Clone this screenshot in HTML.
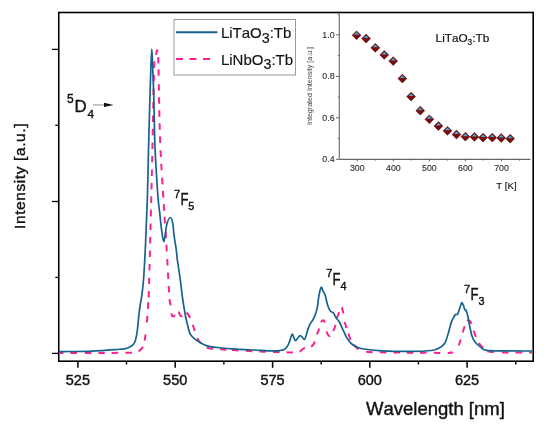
<!DOCTYPE html>
<html><head><meta charset="utf-8"><title>LiTaO3:Tb and LiNbO3:Tb emission spectra</title>
<style>
html,body{margin:0;padding:0;background:#fff;}
body{width:550px;height:428px;overflow:hidden;}
svg{display:block;font-family:'Liberation Sans', Arial, sans-serif;font-kerning:none;}
.m{fill:#111;stroke:#111;stroke-width:0.4px;}
.s{fill:#333;stroke:#333;stroke-width:0.15px;}
.s2{fill:#222;stroke:#222;stroke-width:0.2px;}
.l{fill:#111;stroke:#111;stroke-width:0.15px;}
.s3{fill:#111;stroke:#111;stroke-width:0.2px;}
</style></head>
<body>
<svg width="550" height="428" viewBox="0 0 550 428">
<rect width="550" height="428" fill="#fff"/>
<rect x="58.75" y="12.5" width="474.45" height="348.7" fill="none" stroke="#000" stroke-width="1.6"/>
<line x1="52" y1="49.4" x2="59" y2="49.4" stroke="#000" stroke-width="1.3"/>
<line x1="52" y1="201.5" x2="59" y2="201.5" stroke="#000" stroke-width="1.3"/>
<line x1="52" y1="353.4" x2="59" y2="353.4" stroke="#000" stroke-width="1.3"/>
<line x1="55.3" y1="125.3" x2="59" y2="125.3" stroke="#000" stroke-width="1.3"/>
<line x1="55.3" y1="277.4" x2="59" y2="277.4" stroke="#000" stroke-width="1.3"/>
<line x1="77.9" y1="361" x2="77.9" y2="367.8" stroke="#000" stroke-width="1.5"/>
<line x1="175.2" y1="361" x2="175.2" y2="367.8" stroke="#000" stroke-width="1.5"/>
<line x1="272.6" y1="361" x2="272.6" y2="367.8" stroke="#000" stroke-width="1.5"/>
<line x1="369.8" y1="361" x2="369.8" y2="367.8" stroke="#000" stroke-width="1.5"/>
<line x1="467.1" y1="361" x2="467.1" y2="367.8" stroke="#000" stroke-width="1.5"/>
<line x1="126.5" y1="361" x2="126.5" y2="364.5" stroke="#000" stroke-width="1.4"/>
<line x1="223.9" y1="361" x2="223.9" y2="364.5" stroke="#000" stroke-width="1.4"/>
<line x1="321.2" y1="361" x2="321.2" y2="364.5" stroke="#000" stroke-width="1.4"/>
<line x1="418.4" y1="361" x2="418.4" y2="364.5" stroke="#000" stroke-width="1.4"/>
<line x1="515.8" y1="361" x2="515.8" y2="364.5" stroke="#000" stroke-width="1.4"/>
<text x="77.9" y="384.5" font-size="14.5" text-anchor="middle" class="m">525</text>
<text x="175.2" y="384.5" font-size="14.5" text-anchor="middle" class="m">550</text>
<text x="272.6" y="384.5" font-size="14.5" text-anchor="middle" class="m">575</text>
<text x="369.8" y="384.5" font-size="14.5" text-anchor="middle" class="m">600</text>
<text x="467.1" y="384.5" font-size="14.5" text-anchor="middle" class="m">625</text>
<text x="366" y="414.6" font-size="18.5" class="m">Wavelength [nm]</text>
<text transform="translate(25.3,229) rotate(-90)" font-size="15.5" letter-spacing="0.6" class="m">Intensity [a.u.]</text>
<path d="M59.00,353.00 C70.83,352.97 117.17,352.93 130.00,352.80 C142.83,352.67 134.50,352.50 136.00,352.20 C137.50,351.90 138.17,351.48 139.00,351.00 C139.83,350.52 140.42,349.88 141.00,349.30 C141.58,348.72 142.00,348.38 142.50,347.50 C143.00,346.62 143.55,345.75 144.00,344.00 C144.45,342.25 144.83,339.67 145.20,337.00 C145.57,334.33 145.93,330.35 146.20,328.00 C146.47,325.65 146.52,325.90 146.80,322.90 C147.08,319.90 147.65,314.03 147.90,310.00 C148.15,305.97 148.13,302.03 148.30,298.70 C148.47,295.37 148.43,305.62 148.90,290.00 C149.37,274.38 150.50,229.17 151.10,205.00 C151.70,180.83 152.10,163.33 152.50,145.00 C152.90,126.67 153.20,108.67 153.50,95.00 C153.80,81.33 153.88,69.67 154.30,63.00 C154.72,56.33 155.55,57.13 156.00,55.00 C156.45,52.87 156.70,50.45 157.00,50.20 C157.30,49.95 157.57,51.53 157.80,53.50 C158.03,55.47 158.20,55.08 158.40,62.00 C158.60,68.92 158.68,81.17 159.00,95.00 C159.32,108.83 159.50,126.67 160.30,145.00 C161.10,163.33 162.78,188.33 163.80,205.00 C164.82,221.67 165.67,232.92 166.40,245.00 C167.13,257.08 167.68,268.50 168.20,277.50 C168.72,286.50 169.10,294.42 169.50,299.00 C169.90,303.58 170.30,302.77 170.60,305.00 C170.90,307.23 171.02,310.57 171.30,312.40 C171.58,314.23 171.85,315.40 172.30,316.00 C172.75,316.60 173.13,316.92 174.00,316.00 C174.87,315.08 176.38,310.50 177.50,310.50 C178.62,310.50 179.78,315.25 180.70,316.00 C181.62,316.75 182.22,315.60 183.00,315.00 C183.78,314.40 184.65,312.65 185.40,312.40 C186.15,312.15 186.73,312.63 187.50,313.50 C188.27,314.37 189.00,315.35 190.00,317.60 C191.00,319.85 192.17,323.35 193.50,327.00 C194.83,330.65 196.42,336.50 198.00,339.50 C199.58,342.50 201.33,343.58 203.00,345.00 C204.67,346.42 205.50,347.32 208.00,348.00 C210.50,348.68 214.33,348.77 218.00,349.10 C221.67,349.43 223.00,349.60 230.00,350.00 C237.00,350.40 250.00,351.10 260.00,351.50 C270.00,351.90 284.08,352.18 290.00,352.40 C295.92,352.62 293.83,352.95 295.50,352.80 C297.17,352.65 298.75,352.17 300.00,351.50 C301.25,350.83 301.83,349.45 303.00,348.80 C304.17,348.15 305.83,347.87 307.00,347.60 C308.17,347.33 309.00,347.63 310.00,347.20 C311.00,346.77 312.17,346.03 313.00,345.00 C313.83,343.97 314.33,342.83 315.00,341.00 C315.67,339.17 316.37,335.85 317.00,334.00 C317.63,332.15 318.27,331.60 318.80,329.90 C319.33,328.20 319.67,325.28 320.20,323.80 C320.73,322.32 321.45,321.60 322.00,321.00 C322.55,320.40 323.07,320.03 323.50,320.20 C323.93,320.37 324.22,320.53 324.60,322.00 C324.98,323.47 325.32,327.00 325.80,329.00 C326.28,331.00 326.88,332.83 327.50,334.00 C328.12,335.17 328.92,335.92 329.50,336.00 C330.08,336.08 330.52,335.13 331.00,334.50 C331.48,333.87 331.70,333.58 332.40,332.20 C333.10,330.82 334.58,328.30 335.20,326.20 C335.82,324.10 335.48,321.78 336.10,319.60 C336.72,317.42 338.18,315.28 338.90,313.10 C339.62,310.92 339.92,307.43 340.40,306.50 C340.88,305.57 341.35,306.57 341.80,307.50 C342.25,308.43 342.68,309.92 343.10,312.10 C343.52,314.28 343.82,318.25 344.30,320.60 C344.78,322.95 345.47,324.48 346.00,326.20 C346.53,327.92 346.67,328.52 347.50,330.90 C348.33,333.28 349.55,337.73 351.00,340.50 C352.45,343.27 354.03,345.68 356.20,347.50 C358.37,349.32 360.03,350.60 364.00,351.40 C367.97,352.20 366.38,352.05 380.00,352.30 C393.62,352.55 433.80,352.93 445.70,352.90 C457.60,352.87 449.48,352.92 451.40,352.10 C453.32,351.28 455.70,349.90 457.20,348.00 C458.70,346.10 459.32,343.83 460.40,340.70 C461.48,337.57 462.75,332.20 463.70,329.20 C464.65,326.20 465.28,324.20 466.10,322.70 C466.92,321.20 467.63,319.93 468.60,320.20 C469.57,320.47 470.95,322.25 471.90,324.30 C472.85,326.35 473.35,329.77 474.30,332.50 C475.25,335.23 476.65,338.70 477.60,340.70 C478.55,342.70 479.18,343.42 480.00,344.50 C480.82,345.58 481.33,346.07 482.50,347.20 C483.67,348.33 484.08,350.42 487.00,351.30 C489.92,352.18 492.50,352.30 500.00,352.50 C507.50,352.70 526.67,352.50 532.00,352.50" fill="none" stroke="#fa2290" stroke-width="2.0" stroke-dasharray="4.65 6.95 6.5 7.7 6.5 7 6.5 6.6 6.5 7.3 6.5 9.5 6.5 6.3 6.5 11.9 6.5 6.99 6.5 6.99 6.5 6.99 6.5 6.99 6.5 6.99 6.5 6.99 6.5 6.99 6.5 6.99 6.5 6.99 6.5 6.99 6.5 6.99 6.5 6.99 6.5 6.99 6.5 6.99 6.5 6.99 6.5 6.99 6.5 6.99 6.5 6.99 6.5 6.99 6.5 6.99 6.5 5.5 6.5 5.6 6.5 8.4 6.5 6.6 6.5 6.6 6.5 6.6 6.5 6.6 6.5 7.5 6.5 6.7 6.5 7.5 6.5 6.6 6.5 6.7 6.5 6.3 6.5 8.2 6.5 6.8 6.5 7.8 6.5 6.9 6.5 6.9 6.5 6.8 6.5 7.8 6.5 6.7 6.5 5.7 6.5 7.5 6.5 7.4 6.5 7.4 6.5 6.7 6.5 5.6 6.5 7.1 6.5 7.2 6.5 7.1 6.5 6.8 6.5 7 6.5 6.4 6.5 7.2 6.5 6.4 6.5 8.6 6.5 5.7 6.5 6.8 6.5 7.7 6.5 8.3 6.5 6 6.5 6 6.5 8.1 6.5 7.2 6.5 7.3 6.5 6.6 6.5 6.6 6.5 7.3 6.5 7.3 6.5 9.9 6.5 6.9 6.5 5.9 6.5 7.3 6.5 6.8 6.5 5.7 6.5 8.2 6.5 7 6.5 7 6.5 6.95 6.5 6.95" stroke-linejoin="round"/>
<path d="M59.00,351.70 C63.83,351.63 80.73,351.47 88.00,351.30 C95.27,351.13 97.73,351.00 102.60,350.70 C107.47,350.40 113.55,349.82 117.20,349.50 C120.85,349.18 122.70,349.08 124.50,348.80 C126.30,348.52 126.92,348.22 128.00,347.80 C129.08,347.38 130.10,346.90 131.00,346.30 C131.90,345.70 132.73,345.00 133.40,344.20 C134.07,343.40 134.55,342.62 135.00,341.50 C135.45,340.38 135.75,339.08 136.10,337.50 C136.45,335.92 136.82,333.92 137.10,332.00 C137.38,330.08 137.50,328.83 137.80,326.00 C138.10,323.17 138.50,318.50 138.90,315.00 C139.30,311.50 139.75,308.00 140.20,305.00 C140.65,302.00 141.05,301.17 141.60,297.00 C142.15,292.83 142.85,288.67 143.50,280.00 C144.15,271.33 144.87,258.33 145.50,245.00 C146.13,231.67 146.80,215.83 147.30,200.00 C147.80,184.17 148.17,163.33 148.50,150.00 C148.83,136.67 149.05,129.17 149.30,120.00 C149.55,110.83 149.75,103.33 150.00,95.00 C150.25,86.67 150.50,77.67 150.80,70.00 C151.10,62.33 151.47,49.00 151.80,49.00 C152.13,49.00 152.48,62.33 152.80,70.00 C153.12,77.67 153.45,86.67 153.70,95.00 C153.95,103.33 154.10,111.67 154.30,120.00 C154.50,128.33 154.53,135.83 154.90,145.00 C155.27,154.17 155.95,165.83 156.50,175.00 C157.05,184.17 157.68,193.88 158.20,200.00 C158.72,206.12 159.17,207.80 159.60,211.70 C160.03,215.60 160.35,219.52 160.80,223.40 C161.25,227.28 161.80,231.98 162.30,235.00 C162.80,238.02 163.32,241.50 163.80,241.50 C164.28,241.50 164.67,238.02 165.20,235.00 C165.73,231.98 166.12,226.32 167.00,223.40 C167.88,220.48 169.53,217.50 170.50,217.50 C171.47,217.50 172.22,220.48 172.80,223.40 C173.38,226.32 173.42,230.57 174.00,235.00 C174.58,239.43 175.77,246.03 176.30,250.00 C176.83,253.97 176.58,254.22 177.20,258.80 C177.82,263.38 179.15,271.25 180.00,277.50 C180.85,283.75 181.42,290.05 182.30,296.30 C183.18,302.55 184.52,310.60 185.30,315.00 C186.08,319.40 186.17,319.50 187.00,322.70 C187.83,325.90 188.80,331.33 190.30,334.20 C191.80,337.07 193.68,338.13 196.00,339.90 C198.32,341.67 202.03,343.72 204.20,344.80 C206.37,345.88 206.83,345.95 209.00,346.40 C211.17,346.85 212.63,347.05 217.20,347.50 C221.77,347.95 230.18,348.68 236.40,349.10 C242.62,349.52 248.45,349.70 254.50,350.00 C260.55,350.30 268.45,350.82 272.70,350.90 C276.95,350.98 278.07,350.75 280.00,350.50 C281.93,350.25 283.13,350.02 284.30,349.40 C285.47,348.78 286.22,347.87 287.00,346.80 C287.78,345.73 288.42,344.38 289.00,343.00 C289.58,341.62 289.98,339.97 290.50,338.50 C291.02,337.03 291.60,334.53 292.10,334.20 C292.60,333.87 293.00,335.45 293.50,336.50 C294.00,337.55 294.43,340.17 295.10,340.50 C295.77,340.83 296.65,339.32 297.50,338.50 C298.35,337.68 299.37,335.77 300.20,335.60 C301.03,335.43 301.80,336.85 302.50,337.50 C303.20,338.15 303.82,339.75 304.40,339.50 C304.98,339.25 305.50,337.42 306.00,336.00 C306.50,334.58 306.73,332.97 307.40,331.00 C308.07,329.03 309.05,326.12 310.00,324.20 C310.95,322.28 312.13,321.33 313.10,319.50 C314.07,317.67 315.07,315.40 315.80,313.20 C316.53,311.00 317.05,308.72 317.50,306.30 C317.95,303.88 318.13,301.13 318.50,298.70 C318.87,296.27 319.23,293.62 319.70,291.70 C320.17,289.78 320.80,287.43 321.30,287.20 C321.80,286.97 322.27,289.40 322.70,290.30 C323.13,291.20 323.53,291.95 323.90,292.60 C324.27,293.25 324.55,293.18 324.90,294.20 C325.25,295.22 325.47,296.65 326.00,298.70 C326.53,300.75 327.35,304.42 328.10,306.50 C328.85,308.58 329.63,310.15 330.50,311.20 C331.37,312.25 332.37,311.70 333.30,312.80 C334.23,313.90 335.08,316.27 336.10,317.80 C337.12,319.33 338.47,320.45 339.40,322.00 C340.33,323.55 340.93,325.47 341.70,327.10 C342.47,328.73 343.28,330.25 344.00,331.80 C344.72,333.35 345.33,335.12 346.00,336.40 C346.67,337.68 347.03,338.23 348.00,339.50 C348.97,340.77 350.13,342.67 351.80,344.00 C353.47,345.33 355.95,346.67 358.00,347.50 C360.05,348.33 360.05,348.45 364.10,349.00 C368.15,349.55 374.73,350.40 382.30,350.80 C389.87,351.20 401.32,351.45 409.50,351.40 C417.68,351.35 426.55,351.02 431.40,350.50 C436.25,349.98 436.48,349.37 438.60,348.30 C440.72,347.23 442.78,345.65 444.10,344.10 C445.42,342.55 445.68,341.22 446.50,339.00 C447.32,336.78 448.18,333.65 449.00,330.80 C449.82,327.95 450.58,324.20 451.40,321.90 C452.22,319.60 453.22,318.23 453.90,317.00 C454.58,315.77 454.88,314.97 455.50,314.50 C456.12,314.03 456.97,315.02 457.60,314.20 C458.23,313.38 458.75,311.18 459.30,309.60 C459.85,308.02 460.43,305.85 460.90,304.70 C461.37,303.55 461.63,302.43 462.10,302.70 C462.57,302.97 463.25,305.15 463.70,306.30 C464.15,307.45 464.40,308.92 464.80,309.60 C465.20,310.28 465.60,309.32 466.10,310.40 C466.60,311.48 467.20,313.50 467.80,316.10 C468.40,318.70 469.02,322.72 469.70,326.00 C470.38,329.28 471.00,333.08 471.90,335.80 C472.80,338.52 473.62,340.40 475.10,342.30 C476.58,344.20 479.15,345.92 480.80,347.20 C482.45,348.48 482.63,349.40 485.00,350.00 C487.37,350.60 487.17,350.63 495.00,350.80 C502.83,350.97 525.83,350.97 532.00,351.00" fill="none" stroke="#17628c" stroke-width="1.7" stroke-linejoin="round"/>
<rect x="174" y="19.5" width="121.5" height="55.5" fill="#fff" stroke="#999" stroke-width="1"/>
<line x1="176" y1="32.2" x2="217.4" y2="32.2" stroke="#17628c" stroke-width="2"/>
<line x1="176" y1="58.9" x2="210" y2="58.9" stroke="#fa2290" stroke-width="2" stroke-dasharray="7 6.5"/>
<text x="220.9" y="37.9" font-size="15" class="l">LiTaO<tspan dy="4.6" font-size="14.3">3</tspan><tspan dy="-4.6">:Tb</tspan></text>
<text x="220.9" y="64.8" font-size="15" class="l">LiNbO<tspan dy="4.6" font-size="14.3">3</tspan><tspan dy="-4.6">:Tb</tspan></text>
<text x="67" y="103.3" font-size="12" class="m">5</text>
<text x="74.6" y="112.3" font-size="16.8" class="m">D</text>
<text x="87.4" y="118.3" font-size="11.8" class="m">4</text>
<line x1="93" y1="104.9" x2="105" y2="104.9" stroke="#aaa" stroke-width="1.3"/>
<polygon points="104,102.8 113.6,104.9 104,107" fill="#111"/>
<text x="174.0" y="197.8" font-size="11" class="m">7</text>
<text transform="translate(180.4,205.0) scale(0.84,1)" font-size="15.6" class="m">F</text>
<text x="188.3" y="210.4" font-size="10.8" class="m">5</text>
<text x="326.3" y="277.3" font-size="11" class="m">7</text>
<text transform="translate(332.6,284.5) scale(0.84,1)" font-size="15.6" class="m">F</text>
<text x="340.4" y="289.7" font-size="10.8" class="m">4</text>
<text x="464.1" y="292.6" font-size="11" class="m">7</text>
<text transform="translate(470.4,299.8) scale(0.84,1)" font-size="15.6" class="m">F</text>
<text x="478.6" y="305.3" font-size="10.8" class="m">3</text>
<line x1="339.3" y1="14" x2="339.3" y2="159.3" stroke="#666" stroke-width="1.1"/>
<line x1="339.3" y1="159.3" x2="530.4" y2="159.3" stroke="#666" stroke-width="1.3"/>
<line x1="336" y1="159.3" x2="339.3" y2="159.3" stroke="#666" stroke-width="1"/>
<text x="334.6" y="162.3" font-size="8.8" text-anchor="end" class="s">0.4</text>
<line x1="336" y1="117.8" x2="339.3" y2="117.8" stroke="#666" stroke-width="1"/>
<text x="334.6" y="120.8" font-size="8.8" text-anchor="end" class="s">0.6</text>
<line x1="336" y1="76.4" x2="339.3" y2="76.4" stroke="#666" stroke-width="1"/>
<text x="334.6" y="79.4" font-size="8.8" text-anchor="end" class="s">0.8</text>
<line x1="336" y1="34.9" x2="339.3" y2="34.9" stroke="#666" stroke-width="1"/>
<text x="334.6" y="37.9" font-size="8.8" text-anchor="end" class="s">1.0</text>
<line x1="337.8" y1="138.5" x2="339.3" y2="138.5" stroke="#666" stroke-width="1"/>
<line x1="337.8" y1="97.1" x2="339.3" y2="97.1" stroke="#666" stroke-width="1"/>
<line x1="337.8" y1="55.6" x2="339.3" y2="55.6" stroke="#666" stroke-width="1"/>
<line x1="337.8" y1="14.2" x2="339.3" y2="14.2" stroke="#666" stroke-width="1"/>
<line x1="357.3" y1="159.3" x2="357.3" y2="161.3" stroke="#666" stroke-width="1"/>
<text x="357.3" y="170.6" font-size="8.8" text-anchor="middle" class="s">300</text>
<line x1="393.4" y1="159.3" x2="393.4" y2="161.3" stroke="#666" stroke-width="1"/>
<text x="393.4" y="170.6" font-size="8.8" text-anchor="middle" class="s">400</text>
<line x1="429.4" y1="159.3" x2="429.4" y2="161.3" stroke="#666" stroke-width="1"/>
<text x="429.4" y="170.6" font-size="8.8" text-anchor="middle" class="s">500</text>
<line x1="465.4" y1="159.3" x2="465.4" y2="161.3" stroke="#666" stroke-width="1"/>
<text x="465.4" y="170.6" font-size="8.8" text-anchor="middle" class="s">600</text>
<line x1="501.5" y1="159.3" x2="501.5" y2="161.3" stroke="#666" stroke-width="1"/>
<text x="501.5" y="170.6" font-size="8.8" text-anchor="middle" class="s">700</text>
<line x1="375.3" y1="159.3" x2="375.3" y2="160.6" stroke="#666" stroke-width="1"/>
<line x1="411.4" y1="159.3" x2="411.4" y2="160.6" stroke="#666" stroke-width="1"/>
<line x1="447.4" y1="159.3" x2="447.4" y2="160.6" stroke="#666" stroke-width="1"/>
<line x1="483.4" y1="159.3" x2="483.4" y2="160.6" stroke="#666" stroke-width="1"/>
<line x1="519.5" y1="159.3" x2="519.5" y2="160.6" stroke="#666" stroke-width="1"/>
<text x="496.3" y="189.3" font-size="9.6" class="s2">T [K]</text>
<text transform="translate(312.4,125) rotate(-90)" font-size="7.1" fill="#444">Integrated Intensity [a.u.]</text>
<text x="435.6" y="41.5" font-size="11.75" class="s3">LiTaO<tspan dy="3.4" font-size="8.3">3</tspan><tspan dy="-3.4">:Tb</tspan></text>
<polygon points="356.60,30.90 361.00,35.30 356.60,39.70 352.20,35.30" fill="#7d0a0a" stroke="#5a0505" stroke-width="0.6"/>
<polygon points="356.60,32.10 359.10,34.80 354.10,34.80" fill="#3aaee0"/>
<polygon points="366.10,34.20 370.50,38.60 366.10,43.00 361.70,38.60" fill="#7d0a0a" stroke="#5a0505" stroke-width="0.6"/>
<polygon points="366.10,35.40 368.60,38.10 363.60,38.10" fill="#3aaee0"/>
<polygon points="375.30,43.40 379.70,47.80 375.30,52.20 370.90,47.80" fill="#7d0a0a" stroke="#5a0505" stroke-width="0.6"/>
<polygon points="375.30,44.60 377.80,47.30 372.80,47.30" fill="#3aaee0"/>
<polygon points="384.30,50.50 388.70,54.90 384.30,59.30 379.90,54.90" fill="#7d0a0a" stroke="#5a0505" stroke-width="0.6"/>
<polygon points="384.30,51.70 386.80,54.40 381.80,54.40" fill="#3aaee0"/>
<polygon points="393.20,56.70 397.60,61.10 393.20,65.50 388.80,61.10" fill="#7d0a0a" stroke="#5a0505" stroke-width="0.6"/>
<polygon points="393.20,57.90 395.70,60.60 390.70,60.60" fill="#3aaee0"/>
<polygon points="402.40,74.20 406.80,78.60 402.40,83.00 398.00,78.60" fill="#7d0a0a" stroke="#5a0505" stroke-width="0.6"/>
<polygon points="402.40,75.40 404.90,78.10 399.90,78.10" fill="#3aaee0"/>
<polygon points="411.10,92.20 415.50,96.60 411.10,101.00 406.70,96.60" fill="#7d0a0a" stroke="#5a0505" stroke-width="0.6"/>
<polygon points="411.10,93.40 413.60,96.10 408.60,96.10" fill="#3aaee0"/>
<polygon points="420.30,106.30 424.70,110.70 420.30,115.10 415.90,110.70" fill="#7d0a0a" stroke="#5a0505" stroke-width="0.6"/>
<polygon points="420.30,107.50 422.80,110.20 417.80,110.20" fill="#3aaee0"/>
<polygon points="429.40,114.90 433.80,119.30 429.40,123.70 425.00,119.30" fill="#7d0a0a" stroke="#5a0505" stroke-width="0.6"/>
<polygon points="429.40,116.10 431.90,118.80 426.90,118.80" fill="#3aaee0"/>
<polygon points="438.40,121.60 442.80,126.00 438.40,130.40 434.00,126.00" fill="#7d0a0a" stroke="#5a0505" stroke-width="0.6"/>
<polygon points="438.40,122.80 440.90,125.50 435.90,125.50" fill="#3aaee0"/>
<polygon points="447.50,126.40 451.90,130.80 447.50,135.20 443.10,130.80" fill="#7d0a0a" stroke="#5a0505" stroke-width="0.6"/>
<polygon points="447.50,127.60 450.00,130.30 445.00,130.30" fill="#3aaee0"/>
<polygon points="456.50,130.10 460.90,134.50 456.50,138.90 452.10,134.50" fill="#7d0a0a" stroke="#5a0505" stroke-width="0.6"/>
<polygon points="456.50,131.30 459.00,134.00 454.00,134.00" fill="#3aaee0"/>
<polygon points="465.40,132.30 469.80,136.70 465.40,141.10 461.00,136.70" fill="#7d0a0a" stroke="#5a0505" stroke-width="0.6"/>
<polygon points="465.40,133.50 467.90,136.20 462.90,136.20" fill="#3aaee0"/>
<polygon points="474.40,132.50 478.80,136.90 474.40,141.30 470.00,136.90" fill="#7d0a0a" stroke="#5a0505" stroke-width="0.6"/>
<polygon points="474.40,133.70 476.90,136.40 471.90,136.40" fill="#3aaee0"/>
<polygon points="483.10,133.20 487.50,137.60 483.10,142.00 478.70,137.60" fill="#7d0a0a" stroke="#5a0505" stroke-width="0.6"/>
<polygon points="483.10,134.40 485.60,137.10 480.60,137.10" fill="#3aaee0"/>
<polygon points="492.30,133.20 496.70,137.60 492.30,142.00 487.90,137.60" fill="#7d0a0a" stroke="#5a0505" stroke-width="0.6"/>
<polygon points="492.30,134.40 494.80,137.10 489.80,137.10" fill="#3aaee0"/>
<polygon points="501.20,133.60 505.60,138.00 501.20,142.40 496.80,138.00" fill="#7d0a0a" stroke="#5a0505" stroke-width="0.6"/>
<polygon points="501.20,134.80 503.70,137.50 498.70,137.50" fill="#3aaee0"/>
<polygon points="510.20,134.30 514.60,138.70 510.20,143.10 505.80,138.70" fill="#7d0a0a" stroke="#5a0505" stroke-width="0.6"/>
<polygon points="510.20,135.50 512.70,138.20 507.70,138.20" fill="#3aaee0"/>
</svg>
</body></html>
